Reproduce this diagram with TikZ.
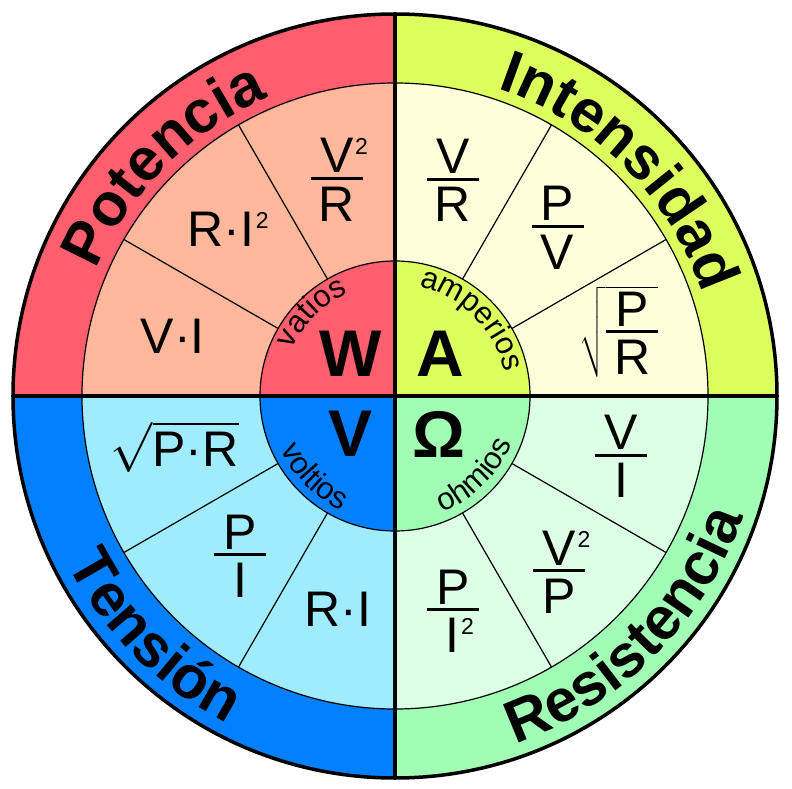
\RequirePackage{fix-cm}
\documentclass[tikz,border=0pt]{standalone}
\usepackage{amsmath}
\usepackage{fontspec}
\setmainfont{Liberation Sans}
\usetikzlibrary{decorations.text}

\definecolor{potout}{HTML}{FF5E6E}
\definecolor{potin}{HTML}{FFB89C}
\definecolor{intout}{HTML}{DCFF5E}
\definecolor{intin}{HTML}{FFFFDC}
\definecolor{tenout}{HTML}{0080FF}
\definecolor{tenin}{HTML}{A0ECFF}
\definecolor{resout}{HTML}{A0FFB4}
\definecolor{resin}{HTML}{DCFFE6}

\newcommand\namefont{\fontsize{60}{60}\selectfont\bfseries}
\newcommand\unitfont{\fontsize{31}{31}\selectfont}
\newcommand\sq{\kern1.5pt\raisebox{18pt}{\fontsize{23}{23}\selectfont 2}}
\newcommand\fr[2]{\vcenter{\hbox to 52pt{\hss#1\hss}\kern4pt\hrule height3pt\kern7pt\hbox to 52pt{\hss#2\hss}}}

\begin{document}
\begin{tikzpicture}[
		thinline/.style={line width=1.2pt},
		arctext/.style={decorate, decoration={text along path, text align=center, text={#1}}},
		formula/.style={font=\fontsize{50}{60}\selectfont, inner sep=0pt},
		unit/.style={font=\fontsize{66}{66}\selectfont\bfseries, inner sep=0pt}
	]
	\useasboundingbox (-395pt,-393pt) rectangle (397pt,396pt);
	
	% Quadrants: outer ring, formula ring, centre
	\foreach \a/\co/\ci in {0/intout/intin, 90/potout/potin, 180/tenout/tenin, 270/resout/resin} {
		\fill[\co] (0,0) -- (\a:382pt) arc[start angle=\a, delta angle=90, radius=382pt] -- cycle;
		\fill[\ci] (0,0) -- (\a:313pt) arc[start angle=\a, delta angle=90, radius=313pt] -- cycle;
		\fill[\co] (0,0) -- (\a:135pt) arc[start angle=\a, delta angle=90, radius=135pt] -- cycle;
	}
	
	% Spokes between the formulas
	\foreach \a in {30,60,120,150,210,240,300,330}
		\draw[thinline] (\a:135pt) -- (\a:313pt);
	\draw[thinline] (0,0) circle (313pt);
	\draw[thinline] (0,0) circle (135pt);
	
	% Outline and cross
	\draw[line width=3.5pt] (0,0) circle (382pt);
	\draw[line width=4pt] (-382pt,0) -- (382pt,0);
	\draw[line width=4pt] (0,-382pt) -- (0,382pt);
	
	% Quantity names on the outer ring
	\path[arctext={|\namefont|Potencia}] (180:324pt) arc[start angle=180, end angle=90, radius=324pt];
	\path[arctext={|\namefont|Intensidad}] (90:324pt) arc[start angle=90, end angle=0, radius=324pt];
	\path[arctext={|\namefont|Tensión}] (180:368pt) arc[start angle=180, end angle=270, radius=368pt];
	\path[arctext={|\namefont|Resistencia}] (270:368pt) arc[start angle=270, end angle=360, radius=368pt];
	
	% Unit names round the centre
	\path[arctext={|\unitfont|vatios}] (180:113pt) arc[start angle=180, end angle=90, radius=113pt];
	\path[arctext={|\unitfont|amperios}] (90:112pt) arc[start angle=90, end angle=0, radius=112pt];
	\path[arctext={|\unitfont|voltios}] (180:126pt) arc[start angle=180, end angle=270, radius=126pt];
	\path[arctext={|\unitfont|ohmios}] (270:126pt) arc[start angle=270, end angle=360, radius=126pt];
	
	% Unit symbols
	\node[unit] (w) at (-44pt,42pt) {W};
	\node[unit] (amp) at (45pt,42pt) {A};
	\node[unit] (v) at (-44pt,-38pt) {V};
	\node[unit] (ohm) at (44pt,-38pt) {Ω};
	
	% Potencia
	\node[formula] (p1) at (105:224pt) {$\fr{V\rlap{\sq}}{R}$};
	\node[formula] (p2) at (135:236pt) {R·I\sq};
	\node[formula] (p3) at (165:230pt) {V·I};
	
	% Intensidad
	\node[formula] (i1) at (75:223pt) {$\fr{V}{R}$};
	\node[formula] (i2) at (46:234pt) {$\fr{P}{V}$};
	\node[formula] (i3) at (16:233pt) {$\sqrt{\fr{P}{R}}$};
	
	% Tensión
	\node[formula] (t1) at (193:226pt) {$\sqrt{\mbox{P·R}}$};
	\node[formula] (t2) at (226:223pt) {$\fr{P}{I}$};
	\node[formula] (t3) at (255:221pt) {R·I};
	
	% Resistencia
	\node[formula] (r1) at (-15:234pt) {$\fr{V}{I}$};
	\node[formula] (r2) at (-47:241pt) {$\fr{V\rlap{\sq}}{P}$};
	\node[formula] (r3) at (-75:223pt) {$\fr{P}{I\rlap{\sq}}$};
\end{tikzpicture}
\end{document}
